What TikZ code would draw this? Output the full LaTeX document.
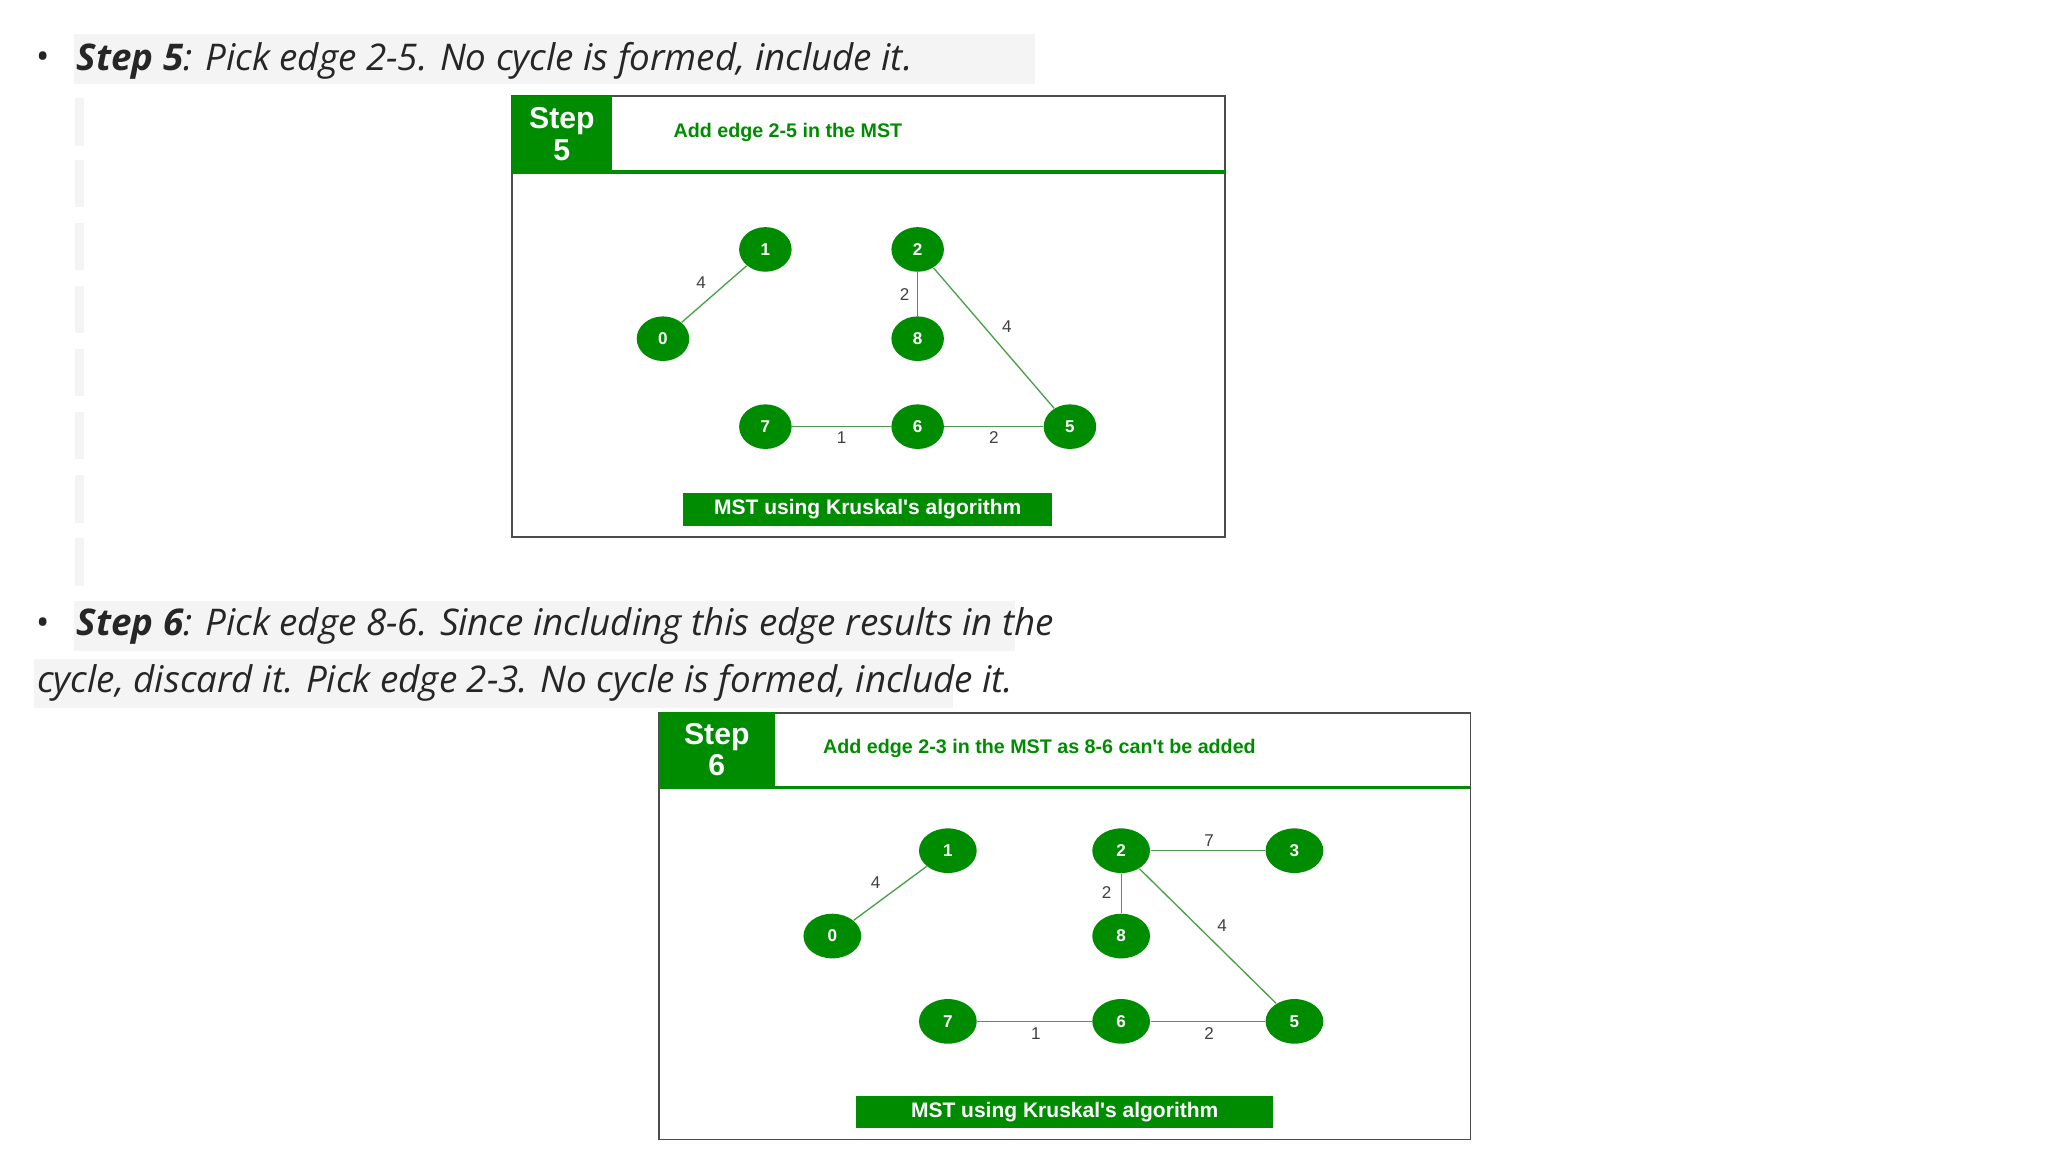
\documentclass[tikz,border=0pt]{standalone}
\usepackage{fontspec}
\setmainfont{Open Sans}
\newfontfamily\arial{Liberation Sans}
\definecolor{gfg}{RGB}{0,140,0}
\definecolor{edgeg}{RGB}{70,160,70}
\definecolor{hl}{RGB}{244,244,244}
\tikzset{
  x=0.5pt,y=-0.5pt,
  vtx/.style={ellipse,fill=gfg,minimum width=20pt,minimum height=17pt,inner sep=0pt,text=white,font=\arial\bfseries\fontsize{6.5}{7}\selectfont},
  el/.style={font=\arial\fontsize{6.5}{7}\selectfont,text=black!75},
  ed/.style={draw=edgeg,line width=0.5pt},
  frame/.style={draw=black!70,line width=0.6pt},
  hdr/.style={fill=gfg,text=white,font=\arial\bfseries\fontsize{11.5}{12}\selectfont,align=center,inner sep=0pt},
  ttl/.style={anchor=west,text=gfg,font=\arial\bfseries\fontsize{7.5}{8}\selectfont},
  foot/.style={fill=gfg,text=white,font=\arial\bfseries\fontsize{8}{9}\selectfont,inner sep=0pt},
  bul/.style={anchor=west,font=\itshape\fontsize{14}{16}\selectfont,text=black!85,inner sep=0pt}
}
\usetikzlibrary{shapes.geometric}
\begin{document}
\begin{tikzpicture}
\useasboundingbox[fill=white] (0,0) rectangle (1560,877.5);
% highlights
\fill[hl] (56,26) rectangle (788,64);
\fill[hl] (56,458) rectangle (773,496);
\fill[hl] (26,502) rectangle (726,539);
\foreach \y in {75,122,170,218,266,314,362,410} \fill[hl] (57,\y) rectangle (64,\y+36);
% bullets
\node[bul] (b1) at (27,46) {\textbullet};
\node[bul] (t1) at (58,46) {\textbf{Step 5}: Pick edge 2-5. No cycle is formed, include it.};
\node[bul] (b2) at (27,477) {\textbullet};
\node[bul] (t2) at (58,477) {\textbf{Step 6}: Pick edge 8-6. Since including this edge results in the};
\node[bul] (t3) at (28,520) {cycle, discard it. Pick edge 2-3. No cycle is formed, include it.};
% ---- box 1
\draw[frame] (390,73) rectangle (933,409);
\node[hdr,minimum width=38pt,minimum height=29pt] (h1) at (428,102) {Step\\5};
\draw[gfg,line width=1.2pt] (390,131) -- (933,131);
\node[ttl] (ti1) at (506,101) {Add edge 2-5 in the MST};
\node[vtx] (a1) at (583,190) {1};
\node[vtx] (a2) at (699,190) {2};
\node[vtx] (a0) at (505,258) {0};
\node[vtx] (a8) at (699,258) {8};
\node[vtx] (a7) at (583,325) {7};
\node[vtx] (a6) at (699,325) {6};
\node[vtx] (a5) at (815,325) {5};
\draw[ed] (a0)--(a1); \draw[ed] (a2)--(a8); \draw[ed] (a2)--(a5);
\draw[ed] (a7)--(a6); \draw[ed] (a6)--(a5);
\node[el] at (534,215) {4};
\node[el] at (689,224) {2};
\node[el] at (767,249) {4};
\node[el] at (641,333) {1};
\node[el] at (757,333) {2};
\node[foot,minimum width=140.5pt,minimum height=12.5pt] (f1) at (661,388) {MST using Kruskal's algorithm};
% ---- box 2
\draw[frame] (502,543) rectangle (1120,868);
\node[hdr,minimum width=44pt,minimum height=28.5pt] (h2) at (546,571) {Step\\6};
\draw[gfg,line width=1.2pt] (502,600) -- (1120,600);
\node[ttl] (ti2) at (620,570) {Add edge 2-3 in the MST as 8-6 can't be added};
\node[vtx,minimum width=22pt] (b1n) at (722,648) {1};
\node[vtx,minimum width=22pt] (b2n) at (854,648) {2};
\node[vtx,minimum width=22pt] (b3n) at (986,648) {3};
\node[vtx,minimum width=22pt] (b0n) at (634,713) {0};
\node[vtx,minimum width=22pt] (b8n) at (854,713) {8};
\node[vtx,minimum width=22pt] (b7n) at (722,778) {7};
\node[vtx,minimum width=22pt] (b6n) at (854,778) {6};
\node[vtx,minimum width=22pt] (b5n) at (986,778) {5};
\draw[ed] (b0n)--(b1n); \draw[ed] (b2n)--(b3n); \draw[ed] (b2n)--(b8n);
\draw[ed] (b2n)--(b5n); \draw[ed] (b7n)--(b6n); \draw[ed] (b6n)--(b5n);
\node[el] at (921,640) {7};
\node[el] at (667,672) {4};
\node[el] at (843,680) {2};
\node[el] at (931,705) {4};
\node[el] at (789,787) {1};
\node[el] at (921,787) {2};
\node[foot,minimum width=159pt,minimum height=12pt] (f2) at (811,847) {MST using Kruskal's algorithm};
\end{tikzpicture}
\end{document}
